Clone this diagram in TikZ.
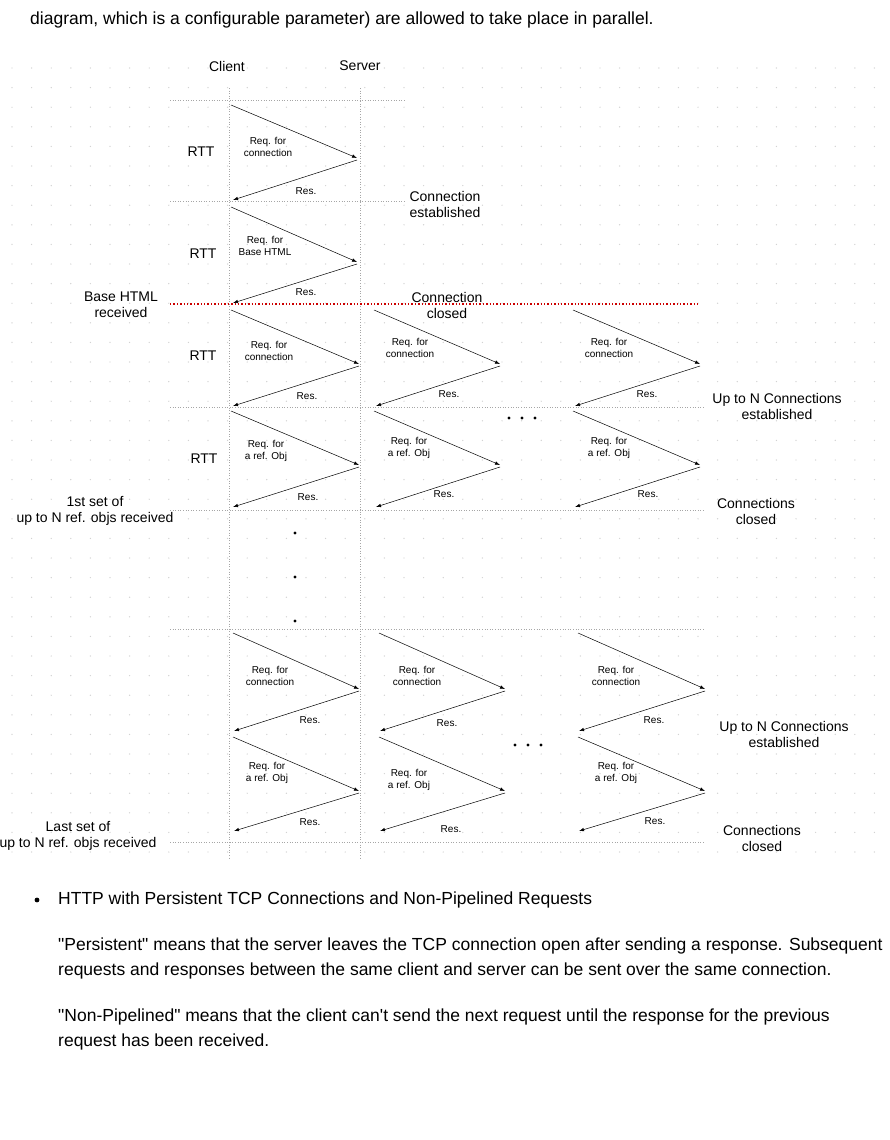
\documentclass[tikz,border=0pt]{standalone}
\usepackage{fontspec}
\setmainfont{Liberation Sans}[Ligatures=TeXOff]
\usetikzlibrary{arrows.meta}
\begin{document}
\begin{tikzpicture}[x=1pt,y=-1pt,
  grid/.style={dotted,gray!70,line width=0.6pt},
  msg/.style={-{Latex[length=5pt,width=3.5pt]},line width=0.5pt},
  small/.style={font=\fontsize{10}{11.5}\selectfont,align=center,inner sep=0pt},
  big/.style={font=\fontsize{14}{16}\selectfont,align=center,inner sep=0pt},
  body/.style={font=\fontsize{17.5}{19}\selectfont,anchor=west,inner sep=0pt}]
\useasboundingbox[fill=white] (0,0) rectangle (890,1140);
% background dot grid
\foreach \i in {0,...,44}{\foreach \j in {0,...,40}{
  \fill[gray!35] (12+19.6*\i,68+19.6*\j) circle (0.7);}}
\node[body] (t0) at (30,20) {diagram, which is a configurable parameter) are allowed to take place in parallel.};
\node[big] (cl) at (227,66) {Client};
\node[big] (sv) at (360,66) {Server};
% lifelines
\coordinate (c1) at (229,88); \coordinate (c2) at (229,858);
\coordinate (s1) at (360,88); \coordinate (s2) at (360,858);
\draw[grid] (c1) -- (c2);
\draw[grid] (s1) -- (s2);
% horizontal separators
\foreach \y/\xe in {100/405,201/405,407/705,510/705,629/705,842/705}{
  \draw[grid] (170,\y) -- (\xe,\y);}
\draw[red!80!black,dotted,line width=1.4pt] (170,304) -- (700,304);
% section 1 and 2
\draw[msg] (231,105) -- (357,158);
\draw[msg] (357,160) -- (233,200);
\draw[msg] (231,207) -- (357,262);
\draw[msg] (357,264) -- (233,303);
\node[small] (l1) at (268,147) {Req. for\\connection};
\node[small] (r1) at (306,191) {Res.};
\node[small] (l2) at (265,246) {Req. for\\Base HTML};
\node[small] (r2) at (306,292) {Res.};
% section 3
\foreach \a/\b in {231/359,374/500,573/700}{
  \draw[msg] (\a,310) -- (\b,364);
  \draw[msg] (\b,366) -- (\a+2,406);}
\node[small] at (269,351) {Req. for\\connection};
\node[small] at (410,348) {Req. for\\connection};
\node[small] at (609,348) {Req. for\\connection};
\node[small] at (307,396) {Res.};
\node[small] at (449,394) {Res.};
\node[small] at (647,394) {Res.};
% section 4
\foreach \a/\b in {231/359,374/500,573/700}{
  \draw[msg] (\a,411) -- (\b,465);
  \draw[msg] (\b,467) -- (\a+2,507);}
\node[small] at (266,451) {Req. for\\a ref. Obj};
\node[small] at (409,448) {Req. for\\a ref. Obj};
\node[small] at (609,448) {Req. for\\a ref. Obj};
\node[small] at (308,497) {Res.};
\node[small] at (444,494) {Res.};
\node[small] at (648,494) {Res.};
% dots
\foreach \x in {509,522,535}{\fill (\x,418) circle (1.6);}
\foreach \y in {533,577,621}{\fill (295,\y) circle (1.6);}
\foreach \x in {515,528,541}{\fill (\x,745) circle (1.6);}
% section 5
\foreach \a/\b in {233/359,379/505,578/705}{
  \draw[msg] (\a,633) -- (\b,689);
  \draw[msg] (\b,691) -- (\a+1,731);}
\node[small] at (270,676) {Req. for\\connection};
\node[small] at (417,676) {Req. for\\connection};
\node[small] at (616,676) {Req. for\\connection};
\node[small] at (310,720) {Res.};
\node[small] at (447,723) {Res.};
\node[small] at (654,720) {Res.};
% section 6
\foreach \a/\b in {233/359,379/505,578/705}{
  \draw[msg] (\a,737) -- (\b,791);
  \draw[msg] (\b,793) -- (\a+1,831);}
\node[small] at (267,773) {Req. for\\a ref. Obj};
\node[small] at (409,780) {Req. for\\a ref. Obj};
\node[small] at (616,773) {Req. for\\a ref. Obj};
\node[small] at (310,822) {Res.};
\node[small] at (451,829) {Res.};
\node[small] at (655,821) {Res.};
% side labels
\node[big] at (201,152) {RTT};
\node[big] at (203,254) {RTT};
\node[big] at (203,356) {RTT};
\node[big] at (204,459) {RTT};
\node[big] at (121,305) {Base HTML\\received};
\node[big] at (445,204) {Connection\\established};
\node[big] at (447,305) {Connection\\closed};
\node[big] at (777,406) {Up to N Connections\\established};
\node[big] at (756,511) {Connections\\closed};
\node[big] at (95,511) {1st set of\\up to N ref. objs received};
\node[big] at (784,734) {Up to N Connections\\established};
\node[big] at (762,838) {Connections\\closed};
\node[big] at (78,836) {Last set of\\up to N ref. objs received};
% bottom text
\fill (37,900) circle (2.4);
\node[body] at (58,900) {HTTP with Persistent TCP Connections and Non-Pipelined Requests};
\node[body] at (58,946) {"Persistent" means that the server leaves the TCP connection open after sending a response. Subsequent};
\node[body] at (58,971) {requests and responses between the same client and server can be sent over the same connection.};
\node[body] at (58,1017) {"Non-Pipelined" means that the client can't send the next request until the response for the previous};
\node[body] at (58,1042) {request has been received.};
\end{tikzpicture}
\end{document}
